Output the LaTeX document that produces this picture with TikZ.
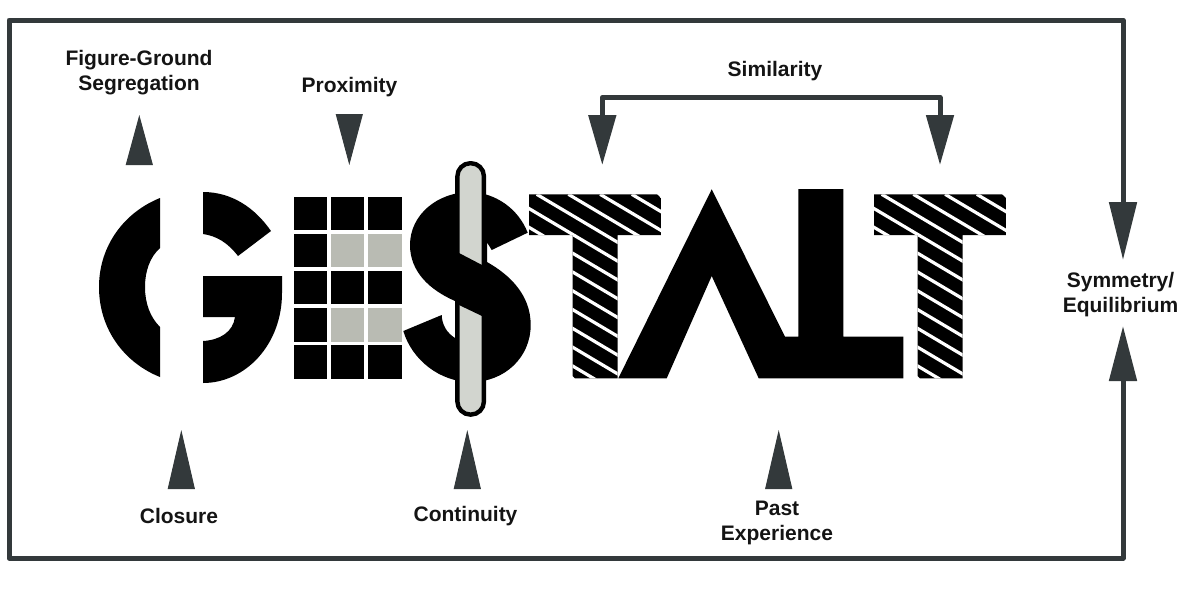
\documentclass[tikz,border=0pt]{standalone}
\usepackage{fontspec}
\setmainfont{Liberation Sans}
\usetikzlibrary{arrows.meta, positioning}
\definecolor{linedark}{HTML}{33393B}
\definecolor{cellgray}{HTML}{B9BBB3}
\definecolor{pillgray}{HTML}{D2D5CF}
\tikzset{
  label/.style={inner sep=0pt, align=center, text=black!92, font=\fontsize{21}{25}\selectfont\bfseries},
  barline/.style={draw=linedark, line width=5pt, line join=round},
  tiponly/.style={draw=linedark, line width=1pt, -{Triangle[width=27pt,length=#1,color=linedark]}},
  glyph/.style={fill=black, draw=none}
}
\begin{document}
\begin{tikzpicture}[x=1pt, y=-1pt]
    \useasboundingbox (0,0) rectangle (1198,590);

    % Letter G
    \fill[glyph] (160,198) .. controls (125,212) and (99,245) .. (99,287) .. controls (99,330) and (125,363) .. (160,377)
      -- (160,327) .. controls (150,317) and (145,303) .. (145,287) .. controls (145,271) and (150,257) .. (160,248) -- cycle;
    \fill[glyph] (203,192) .. controls (232,192) and (255,208) .. (271,231) -- (238,256)
      .. controls (228,243) and (217,236) .. (203,234) -- cycle;
    \fill[glyph] (203,276) -- (282,276) -- (282,293) .. controls (282,345) and (245,383) .. (203,383) -- (203,341)
      .. controls (220,340) and (233,332) .. (235,317) -- (203,317) -- cycle;

    % Letter E
    \foreach \row in {0,...,4}
      \foreach \col in {0,...,2}
        \fill[black] (293.7+37.1*\col,196.7+37.1*\row) rectangle ++(33.6,33.5);
    \foreach \row in {1,3}
      \foreach \col in {1,2}
        \fill[cellgray] (293.7+37.1*\col,196.7+37.1*\row) rectangle ++(33.6,33.5);

    % Letter S
    \fill[glyph] (527.7,232.7) .. controls (518,208) and (495,193) .. (471,192) .. controls (437,192) and (410,215) .. (410,245)
      .. controls (410,272) and (430,290) .. (455,301) -- (455,338) .. controls (447,333) and (442,325) .. (441.7,315)
      -- (403.3,331) .. controls (412,360) and (440,382) .. (471,382) .. controls (505,382) and (530.7,357) .. (530.7,325)
      .. controls (530.7,295) and (510,275) .. (487,262) -- (487,242.3) -- (491.7,250) -- cycle;
    \draw[fill=pillgray, line width=4.4pt, rounded corners=13pt] (457.4,163.2) rectangle (483.9,414.6);
    \fill[glyph] (459,253) -- (482,265) -- (482,316) -- (459,305) -- cycle;

    % Striped letters T
    \foreach \dx in {0,345} {
      \begin{scope}[shift={(\dx,0)}]
        \clip (529,194.3) -- (657,194.3) -- (661,198) -- (661,235) -- (617.7,235) -- (617.7,378.3) -- (575,378.3) -- (572.7,376) -- (572.7,235) -- (529,235) -- cycle;
        \fill[black] (529,194) rectangle (661,379);
        \foreach \k [evaluate=\k as \xs using 536.7+31.7*\k] in {-9,...,3}
          \draw[white, line width=3.2pt] (\xs,194.3) -- ++(340,201.6);
      \end{scope}
    }

    % Letters A and L
    \fill[glyph] (711.7,189.3) -- (785,336.7) -- (798.3,336.7) -- (798.3,189) -- (843.3,189) -- (843.3,336.7) -- (903.3,336.7)
      -- (903.3,378.3) -- (758.7,378.3) -- (711.7,276) -- (666.7,378.3) -- (618.3,378.3) -- cycle;

    % Nodes
    \node[label] (figure) at (139,72.5) {Figure-Ground\\Segregation};
    \node[label] (proximity) at (349.5,87.5) {Proximity};
    \node[label] (similarity) at (775,71.5) {Similarity};
    \node[label] (closure) at (179,516) {Closure};
    \node[label] (continuity) at (465.5,516.5) {Continuity};
    \node[label] (past) at (777,522.5) {Past\\Experience};
    \node[label] (symmetry) at (1120.5,294.5) {Symmetry/\\Equilibrium};

    \coordinate (figBase) at (139.3,164);
    \coordinate (figTip) at (139.3,115);
    \coordinate (proTip) at (349.3,165);
    \coordinate (cloTip) at (181.3,430);
    \coordinate (conTip) at (467.3,430);
    \coordinate (pasTip) at (778.7,430);
    \coordinate (simLeft) at (602.3,165);
    \coordinate (simRight) at (940,165);
    \coordinate (simBar) at (771,97.3);
    \coordinate (symTop) at (1123,260);
    \coordinate (symBottom) at (1123,326);
    \coordinate (frameTop) at (9,20);
    \coordinate (frameBottom) at (9,558);

    % Arrows
    \draw[tiponly=50pt] (figBase) -- (figTip);
    \draw[tiponly=51pt, shorten <=22pt] (proTip |- proximity.south) -- (proTip);
    \draw[tiponly=59pt, shorten <=21pt] (cloTip |- closure.north) -- (cloTip);
    \draw[tiponly=59pt, shorten <=22pt] (conTip |- continuity.north) -- (conTip);
    \draw[tiponly=59pt, shorten <=15pt] (pasTip |- past.north) -- (pasTip);
    \draw[barline, {Triangle[width=27pt,length=50pt,color=linedark]}-{Triangle[width=27pt,length=50pt,color=linedark]}] (simLeft) |- (simBar) -| (simRight);
    \draw[barline, {Triangle[width=27pt,length=58pt,color=linedark]}-{Triangle[width=27pt,length=55pt,color=linedark]}] (symTop) |- (frameTop) -- (frameBottom) -| (symBottom);
  \end{tikzpicture}
\end{document}
